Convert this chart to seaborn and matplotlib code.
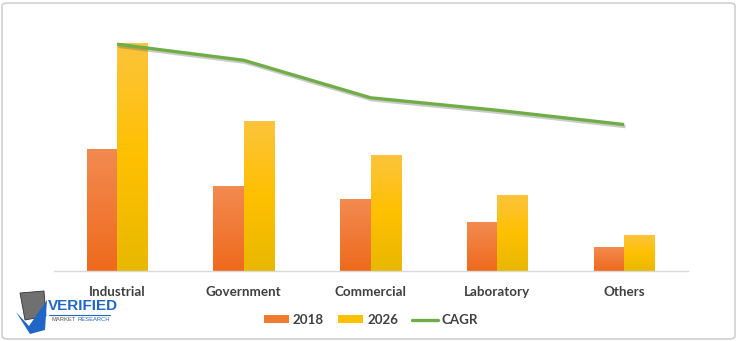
import numpy as np
import pandas as pd
import matplotlib
matplotlib.use("Agg")
import matplotlib.pyplot as plt
import matplotlib.patheffects as pe
from matplotlib.patches import FancyBboxPatch, Polygon, Patch
from matplotlib.lines import Line2D
from matplotlib.colors import LinearSegmentedColormap
import seaborn as sns

categories = ["Industrial", "Government", "Commercial", "Laboratory", "Others"]
years = ["2018", "2026"]
values_2018 = [12.2, 8.5, 7.2, 4.9, 2.4]
values_2026 = [22.8, 15.0, 11.6, 7.6, 3.6]
cagr = [12.7, 11.8, 9.7, 9.0, 8.2]

sns.set_theme(style="white")
plt.rcParams["font.family"] = ["Lato", "DejaVu Sans"]

df = pd.DataFrame({
    "Segment": categories * 2,
    "Year": [years[0]] * 5 + [years[1]] * 5,
    "Value": values_2018 + values_2026,
})

fig = plt.figure(figsize=(7.38, 3.41), dpi=100)
ax = fig.add_axes([53.6 / 738, 70 / 341, 634 / 738, 250 / 341])

palette = {"2018": "#F07B2D", "2026": "#FFC000"}
sns.barplot(data=df, x="Segment", y="Value", hue="Year", palette=palette,
            width=0.48, gap=0, ax=ax, legend=False, saturation=1)

cmaps = [
    LinearSegmentedColormap.from_list("o", ["#EE6A1C", "#F38A50"]),
    LinearSegmentedColormap.from_list("y", ["#E8B800", "#FFC000", "#FCC43C"]),
]
grad = np.linspace(0, 1, 256).reshape(-1, 1)
for ci, cont in enumerate(ax.containers):
    for bar in cont:
        x0, y0 = bar.get_x(), bar.get_y()
        w, h = bar.get_width(), bar.get_height()
        im = ax.imshow(grad, cmap=cmaps[ci], aspect="auto", origin="lower",
                       extent=[x0, x0 + w, y0, y0 + h], zorder=bar.get_zorder() + 0.1)
        im.set_clip_path(bar)
ax.set_xlim(-0.5, 4.5)
ax.set_ylim(0, 25)

ax2 = ax.twinx()
sns.lineplot(x=np.arange(len(categories)), y=cagr, ax=ax2, color="#70AD47",
             linewidth=2.4, solid_capstyle="butt",
             path_effects=[pe.SimpleLineShadow(offset=(1, -1.5), shadow_color="#555555", alpha=0.3),
                           pe.Normal()])
ax2.set_ylim(0, 14)
ax2.set_xlim(-0.5, 4.5)
ax2.axis("off")

for s in ["top", "right", "left"]:
    ax.spines[s].set_visible(False)
ax.spines["bottom"].set_color("#D9D9D9")
ax.spines["bottom"].set_linewidth(1)
ax.set_yticks([])
ax.set_xlabel("")
ax.set_ylabel("")
ax.tick_params(axis="x", length=0, pad=11)
for lbl in ax.get_xticklabels():
    lbl.set_fontweight("bold")
    lbl.set_fontsize(9.6)
    lbl.set_color("#404040")

handles = [Patch(facecolor="#F07B2D", edgecolor="none", label="2018"),
           Patch(facecolor="#FFC000", edgecolor="none", label="2026"),
           Line2D([0], [0], color="#70AD47", linewidth=2.4, label="CAGR")]
leg = fig.legend(handles=handles, loc="center", bbox_to_anchor=(371 / 738, 1 - 320 / 341),
                 ncol=3, frameon=False, handlelength=1.9, handleheight=0.5,
                 handletextpad=0.3, columnspacing=1.05,
                 prop={"weight": "bold", "size": 9.6})
for t in leg.get_texts():
    t.set_color("#404040")

# outer border
fig.patches.append(FancyBboxPatch((2 / 738, 2 / 341), 733 / 738, 336 / 341,
                                  boxstyle="round,pad=0,rounding_size=0.008",
                                  transform=fig.transFigure, facecolor="none",
                                  edgecolor="#D0D0D0", linewidth=1.2))

# logo
def fx(px):
    return px / 738
def fy(py):
    return 1 - py / 341
fig.patches.append(Polygon([(fx(20), fy(293)), (fx(44), fy(291)), (fx(46), fy(316)), (fx(25), fy(320))],
                           closed=True, transform=fig.transFigure, facecolor="#707070", edgecolor="#333333", lw=0.6))
fig.patches.append(Polygon([(fx(16), fy(312)), (fx(29), fy(326)), (fx(47), fy(300)), (fx(45), fy(330)), (fx(30), fy(334))],
                           closed=True, transform=fig.transFigure, facecolor="#1F66C7", edgecolor="none"))
fig.text(fx(48), fy(306), "VERIFIED", color="#1F66C7", fontsize=11, fontweight="bold",
         va="center", ha="left", family=["Liberation Sans", "DejaVu Sans"])
fig.add_artist(Line2D([fx(49), fx(110)], [fy(314.5), fy(314.5)], transform=fig.transFigure,
                      color="#1F66C7", lw=0.8))
fig.text(fx(52), fy(319.5), "MARKET", color="#555555", fontsize=4.2,
         va="center", ha="left", family=["Liberation Sans", "DejaVu Sans"])
fig.text(fx(77), fy(319.5), "RESEARCH", color="#1F66C7", fontsize=4.2,
         va="center", ha="left", family=["Liberation Sans", "DejaVu Sans"])

fig.savefig("out.png", dpi=100)
